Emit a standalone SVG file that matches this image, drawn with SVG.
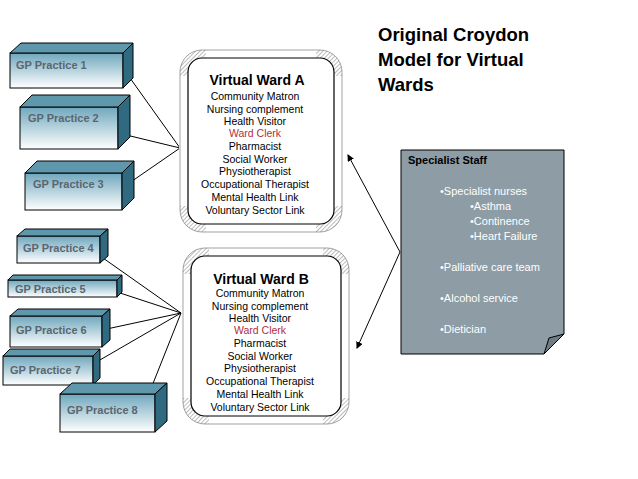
<svg xmlns="http://www.w3.org/2000/svg" width="638" height="479" viewBox="0 0 638 479">
<style>
text{font-family:"Liberation Sans",Arial,sans-serif}
.gp{font-size:11px;font-weight:bold;fill:#5a6670}
.front{fill:url(#gf);stroke:#000;stroke-width:1}
.top{fill:#5f98ad;stroke:#000;stroke-width:1}
.side{fill:#2f6a80;stroke:#000;stroke-width:1}
.ward{fill:#fff;stroke:#000;stroke-width:1.2}
.wt{font-size:10.5px;text-anchor:middle}
.wh{font-size:14px;font-weight:bold;text-anchor:middle}
.red{fill:#b03040}
.ln{stroke:#000;stroke-width:1;fill:none}
.sp{font-size:11px;fill:#fff}
.wm{fill:#fff}
.wo{fill:none;stroke:#666;stroke-width:0.6}
</style>
<defs>
<linearGradient id="gf" x1="0" y1="0" x2="0" y2="1"><stop offset="0" stop-color="#6fa7bd"/><stop offset="1" stop-color="#fff"/></linearGradient>
<pattern id="h" width="3" height="3" patternUnits="userSpaceOnUse" patternTransform="rotate(45)"><line x1="0" y1="0" x2="0" y2="3" stroke="#555" stroke-width="0.8"/></pattern>
<marker id="ar" markerWidth="7" markerHeight="7" refX="6" refY="3.5" orient="auto"><path d="M0,0L7,3.5L0,7z" fill="#000"/></marker>
</defs>
<g id="connectors">
<path class="ln" d="M130,78L180,148M118,133L180,148M122,188L180,148"/>
<path class="ln" d="M103,258L181,313M117,292L181,313M102,330L181,313M93,364L181,313M152,386L181,313"/>
<path class="ln" d="M400,252L348,155" marker-end="url(#ar)"/>
<path class="ln" d="M400,252L357,348" marker-end="url(#ar)"/>
</g>
<g id="gp1"><rect class="front" x="10" y="53" width="113" height="35"/><path class="top" d="M10,53L21,43H133L123,53Z"/><path class="side" d="M123,53L133,43V78L123,88Z"/><text class="gp" x="16" y="69">GP Practice 1</text></g>
<g id="gp2"><rect class="front" x="20" y="107" width="98" height="42"/><path class="top" d="M20,107L32,95H130L118,107Z"/><path class="side" d="M118,107L130,95V137L118,149Z"/><text class="gp" x="28" y="122">GP Practice 2</text></g>
<g id="gp3"><rect class="front" x="25" y="173" width="97" height="37"/><path class="top" d="M25,173L37,161H134L122,173Z"/><path class="side" d="M122,173L134,161V198L122,210Z"/><text class="gp" x="33" y="188">GP Practice 3</text></g>
<g id="gp4"><rect class="front" x="17" y="236" width="83" height="27"/><path class="top" d="M17,236L25,229H108L100,236Z"/><path class="side" d="M100,236L108,229V256L100,263Z"/><text class="gp" x="23" y="252">GP Practice 4</text></g>
<g id="gp5"><rect class="front" x="8" y="280" width="109" height="17"/><path class="top" d="M8,280L13,275H122L117,280Z"/><path class="side" d="M117,280L122,275V292L117,297Z"/><text class="gp" x="15" y="293">GP Practice 5</text></g>
<g id="gp6"><rect class="front" x="10" y="316" width="92" height="31"/><path class="top" d="M10,316L18,309H110L102,316Z"/><path class="side" d="M102,316L110,309V340L102,347Z"/><text class="gp" x="16" y="334">GP Practice 6</text></g>
<g id="gp7"><rect class="front" x="3" y="356" width="90" height="29"/><path class="top" d="M3,356L10,349H100L93,356Z"/><path class="side" d="M93,356L100,349V378L93,385Z"/><text class="gp" x="10" y="374">GP Practice 7</text></g>
<g id="gp8"><rect class="front" x="60" y="394" width="95" height="38"/><path class="top" d="M60,394L72,383H167L155,394Z"/><path class="side" d="M155,394L167,383V421L155,432Z"/><text class="gp" x="67" y="414">GP Practice 8</text></g>
<g id="wardA">
<rect x="180" y="50" width="162" height="182" rx="22" fill="url(#h)"/>
<rect class="wm" x="206" y="49" width="110" height="12"/><rect class="wm" x="206" y="221" width="110" height="12"/><rect class="wm" x="179" y="76" width="12" height="130"/><rect class="wm" x="331" y="76" width="12" height="130"/>
<rect class="wo" x="180" y="50" width="162" height="182" rx="22"/>
<rect class="ward" x="188" y="58" width="146" height="166" rx="14"/>
<text class="wh" x="257" y="85">Virtual Ward A</text>
<text class="wt" x="255" y="100">Community Matron</text><text class="wt" x="255" y="113">Nursing complement</text><text class="wt" x="255" y="125">Health Visitor</text><text class="wt red" x="255" y="137">Ward Clerk</text><text class="wt" x="255" y="150">Pharmacist</text><text class="wt" x="255" y="163">Social Worker</text><text class="wt" x="255" y="175">Physiotherapist</text><text class="wt" x="255" y="188">Occupational Therapist</text><text class="wt" x="255" y="201">Mental Health Link</text><text class="wt" x="255" y="214">Voluntary Sector Link</text>
</g>
<g id="wardB">
<rect x="183" y="248" width="166" height="176" rx="22" fill="url(#h)"/>
<rect class="wm" x="209" y="247" width="114" height="12"/><rect class="wm" x="209" y="413" width="114" height="12"/><rect class="wm" x="182" y="274" width="12" height="124"/><rect class="wm" x="338" y="274" width="12" height="124"/>
<rect class="wo" x="183" y="248" width="166" height="176" rx="22"/>
<rect class="ward" x="191" y="256" width="150" height="160" rx="14"/>
<text class="wh" x="261" y="284">Virtual  Ward B</text>
<text class="wt" x="260" y="297">Community Matron</text><text class="wt" x="260" y="310">Nursing complement</text><text class="wt" x="260" y="322">Health Visitor</text><text class="wt red" x="260" y="334">Ward Clerk</text><text class="wt" x="260" y="347">Pharmacist</text><text class="wt" x="260" y="360">Social Worker</text><text class="wt" x="260" y="372">Physiotherapist</text><text class="wt" x="260" y="385">Occupational Therapist</text><text class="wt" x="260" y="398">Mental Health Link</text><text class="wt" x="260" y="411">Voluntary Sector Link</text>
</g>
<g id="specialist">
<path d="M401,150H564V334L544,354H401Z" fill="#8d9ca5" stroke="#000" stroke-width="1"/>
<path d="M544,354L549,338L564,334Z" fill="#6e7c84" stroke="#000" stroke-width="1"/>
<text x="408" y="164" font-size="11" font-weight="bold">Specialist Staff</text>
<text class="sp" x="440" y="195">•Specialist nurses</text>
<text class="sp" x="470" y="210">•Asthma</text>
<text class="sp" x="470" y="225">•Continence</text>
<text class="sp" x="470" y="240">•Heart Failure</text>
<text class="sp" x="440" y="271">•Palliative care team</text>
<text class="sp" x="440" y="302">•Alcohol service</text>
<text class="sp" x="440" y="333">•Dietician</text>
</g>
<g id="title" font-size="18.5" font-weight="bold"><text x="378" y="41">Original Croydon</text><text x="378" y="66">Model for Virtual</text><text x="378" y="91">Wards</text></g>
</svg>
